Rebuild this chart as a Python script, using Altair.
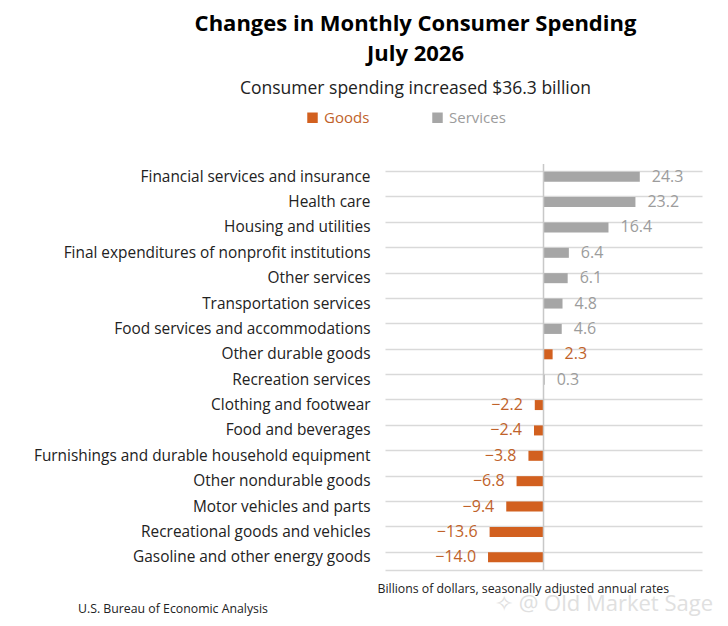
import altair as alt
import pandas as pd

categories = [
    "Financial services and insurance",
    "Health care",
    "Housing and utilities",
    "Final expenditures of nonprofit institutions",
    "Other services",
    "Transportation services",
    "Food services and accommodations",
    "Other durable goods",
    "Recreation services",
    "Clothing and footwear",
    "Food and beverages",
    "Furnishings and durable household equipment",
    "Other nondurable goods",
    "Motor vehicles and parts",
    "Recreational goods and vehicles",
    "Gasoline and other energy goods",
]
values = [24.3, 23.2, 16.4, 6.4, 6.1, 4.8, 4.6, 2.3, 0.3, -2.2, -2.4, -3.8, -6.8, -9.4, -13.6, -14.0]
kinds = ["Services"] * 7 + ["Goods", "Services"] + ["Goods"] * 7

df = pd.DataFrame({"category": categories, "value": values, "kind": kinds})
df["label"] = [f"{v:.1f}".replace("-", "\u2212") for v in values]

FONT = "Open Sans"
ORANGE = "#d2601f"
ORANGE_TXT = "#c0622a"
GREY = "#a6a6a6"
GREY_TXT = "#9c9c9c"

color_scale = alt.Scale(domain=["Goods", "Services"], range=[ORANGE, GREY])
text_scale = alt.Scale(domain=["Goods", "Services"], range=[ORANGE_TXT, GREY_TXT])
xs = alt.Scale(domain=[-40, 40], nice=False, zero=False)
ys = alt.Y(
    "category:N",
    sort=categories,
    scale=alt.Scale(paddingInner=0.6, paddingOuter=0.3),
    axis=alt.Axis(
        title=None, ticks=False, domain=False, grid=True, bandPosition=0,
        gridColor="#d9d9d9", gridWidth=1.5, labelPadding=15, labelFontSize=15.4,
        labelColor="#222222", labelFont=FONT, labelLimit=400,
    ),
)

base = alt.Chart(df)

bars = base.mark_bar(size=10).encode(
    x=alt.X(
        "value:Q", scale=xs,
        axis=alt.Axis(
            title="Billions of dollars, seasonally adjusted annual rates",
            labels=False, ticks=False, grid=False, domain=True,
            domainColor="#d9d9d9", domainWidth=1.5,
            titleFont=FONT, titleFontSize=12.3, titleFontWeight="normal",
            titleColor="#222222", titleAnchor="start", titleAlign="left",
            titleX=-8, titleY=12,
        ),
    ),
    y=ys,
    color=alt.Color(
        "kind:N", scale=color_scale,
        legend=alt.Legend(
            title=None, orient="none", direction="horizontal",
            legendX=-80, legendY=-54, symbolType="square", symbolSize=110,
            symbolStrokeWidth=0, labelFont=FONT, labelFontSize=15,
            labelColor={"expr": "datum.label == 'Goods' ? '%s' : '%s'" % (ORANGE_TXT, GREY_TXT)},
            columnPadding=60, symbolOpacity=1,
        ),
    ),
)

zero = alt.Chart(pd.DataFrame({"z": [0]})).mark_rule(color="#c8c8c8", strokeWidth=1.5).encode(
    x=alt.X("z:Q", scale=xs)
)

pos_text = base.transform_filter("datum.value >= 0").mark_text(
    align="left", dx=12, fontSize=16, font=FONT
).encode(
    x=alt.X("value:Q", scale=xs),
    y=alt.Y("category:N", sort=categories),
    text="label:N",
    color=alt.Color("kind:N", scale=text_scale, legend=None),
)
neg_text = base.transform_filter("datum.value < 0").mark_text(
    align="right", dx=-12, fontSize=16, font=FONT
).encode(
    x=alt.X("value:Q", scale=xs),
    y=alt.Y("category:N", sort=categories),
    text="label:N",
    color=alt.Color("kind:N", scale=text_scale, legend=None),
)

footer = alt.Chart(pd.DataFrame({"t": ["U.S. Bureau of Economic Analysis"]})).mark_text(
    align="left", baseline="alphabetic", fontSize=12.3, font=FONT, color="#222222"
).encode(x=alt.value(-307), y=alt.value(449), text="t:N")

watermark = alt.Chart(pd.DataFrame({"t": ["\u2727 @ Old Market Sage"]})).mark_text(
    align="right", baseline="alphabetic", fontSize=22, font=FONT, color="#e0e0e0"
).encode(x=alt.value(328), y=alt.value(447), text="t:N")

chart = alt.layer(bars, zero, pos_text, neg_text, footer, watermark).resolve_scale(
    color="independent"
).properties(
    width=317,
    height=406,
    autosize=alt.AutoSizeParams(type="none"),
    padding={"left": 377, "top": 156, "right": 14, "bottom": 46},
    title=alt.TitleParams(
        text=["Changes in Monthly Consumer Spending", "July 2026"],
        subtitle="Consumer spending increased $36.3 billion",
        font=FONT, fontSize=22, fontWeight="bold", color="#000000",
        subtitleFont=FONT, subtitleFontSize=17.5, subtitleColor="#222222",
        anchor="middle", frame="group", dx=-128, offset=12, lineHeight=30,
        subtitlePadding=14,
    ),
).configure_view(stroke=None)

chart.save("out.html", embed_options={"renderer": "svg", "actions": False})
